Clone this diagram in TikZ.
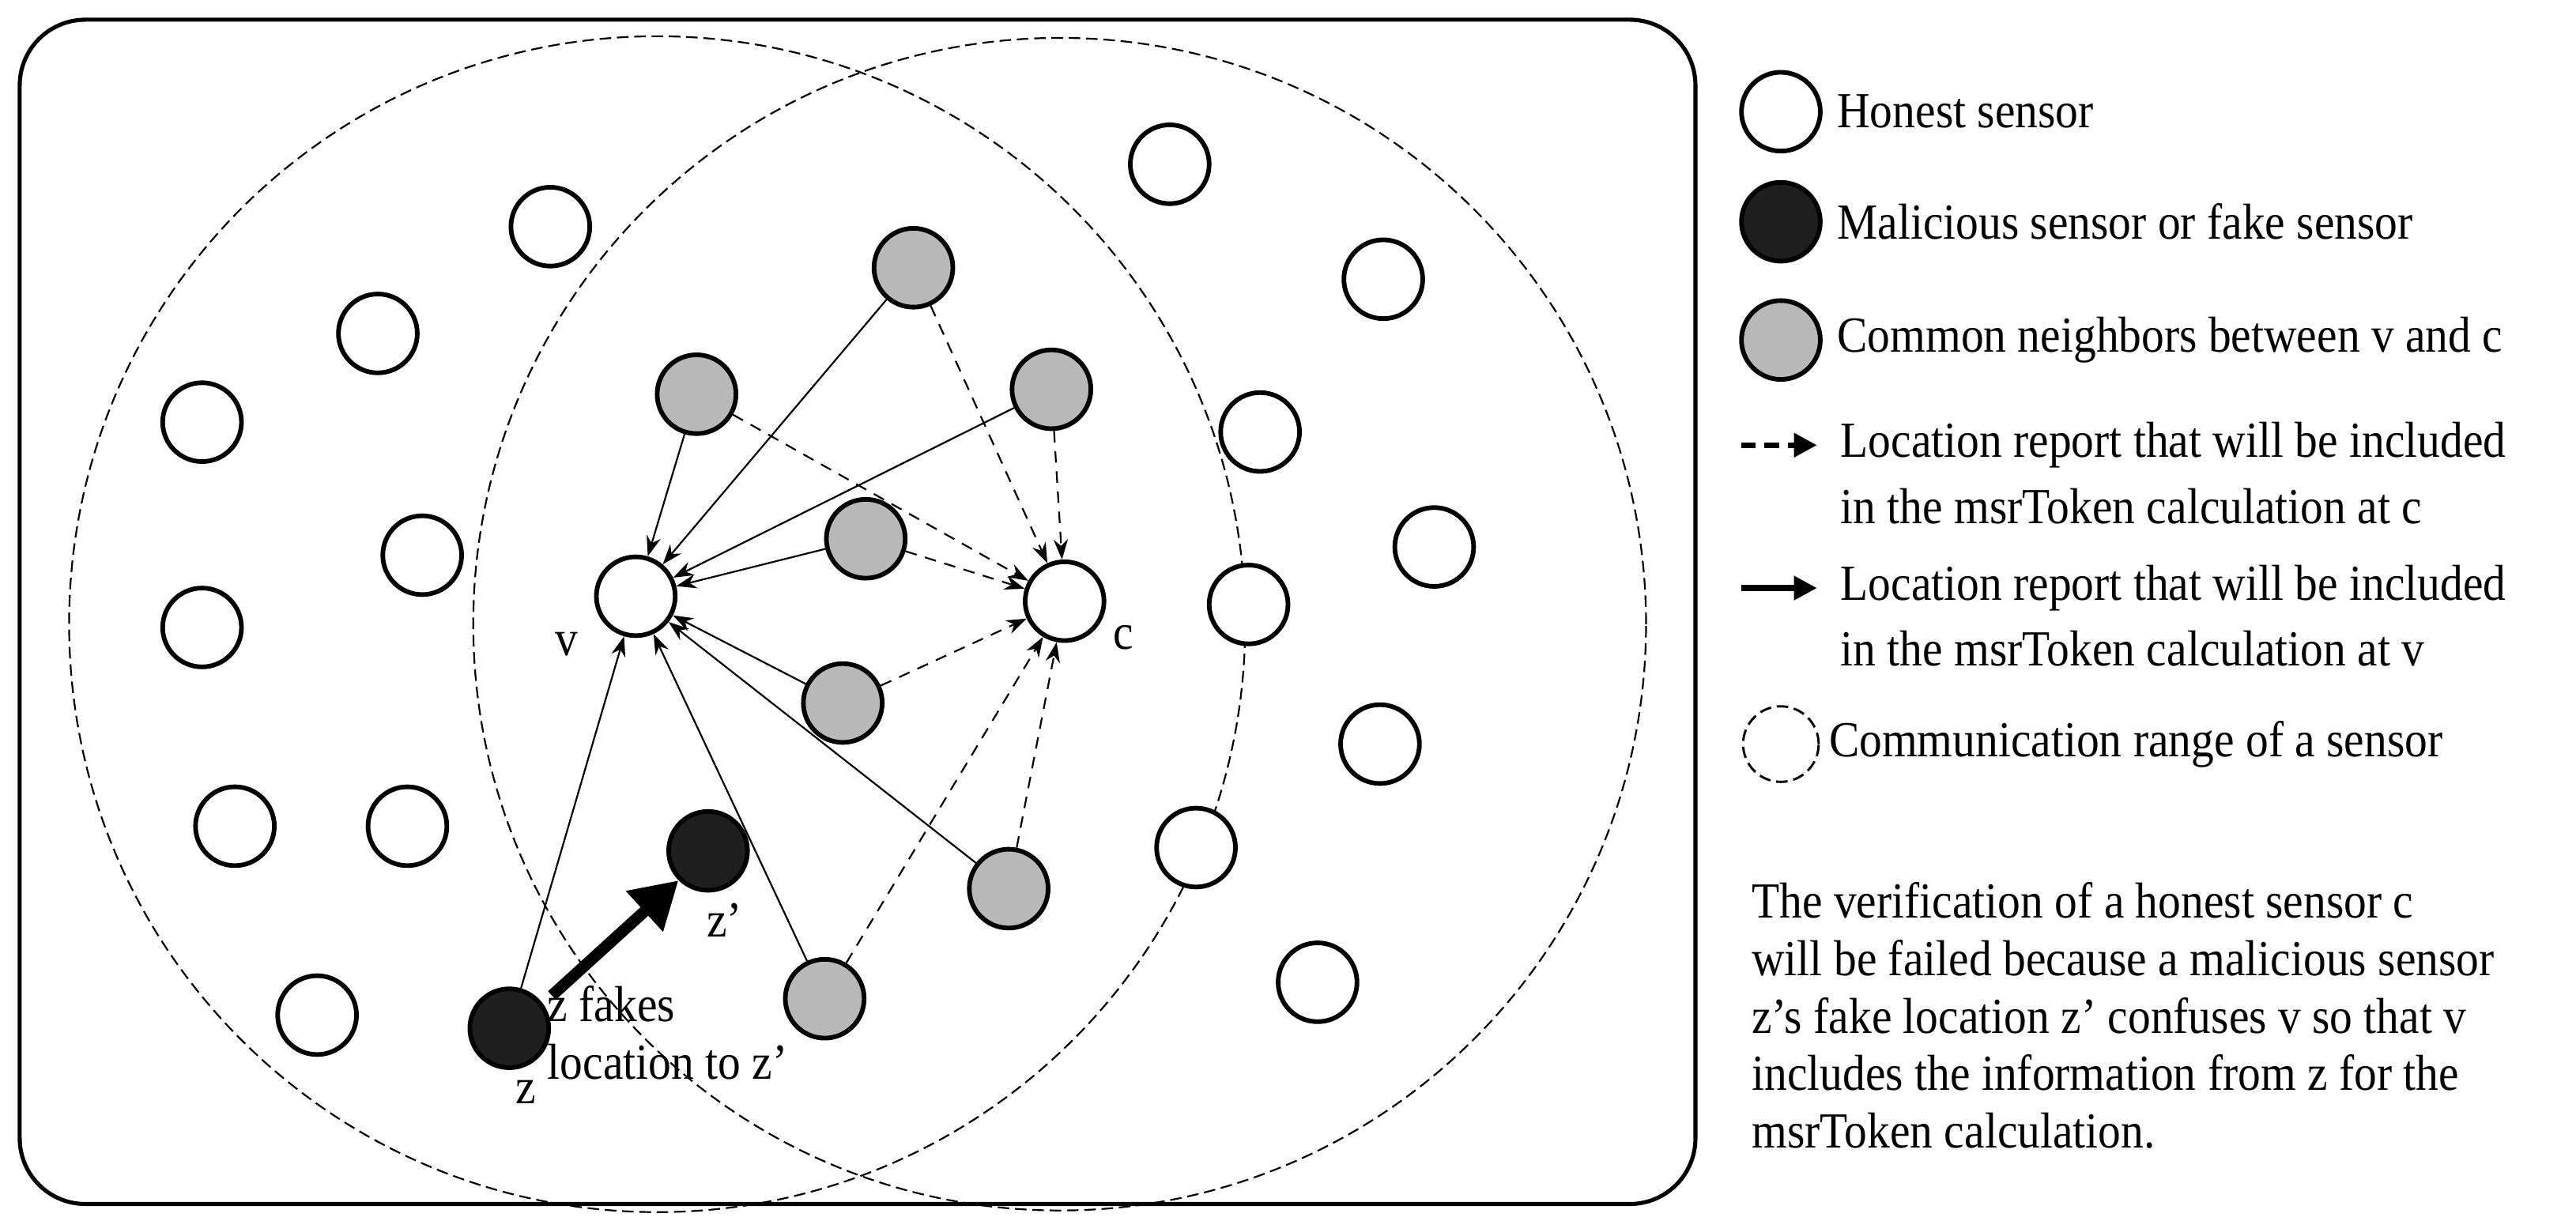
\documentclass[tikz,border=0pt]{standalone}
\usepackage{fontspec}
\setmainfont[FakeStretch=0.9]{Liberation Serif}
\usetikzlibrary{arrows.meta}
\begin{document}
\begin{tikzpicture}[x=0.02cm,y=-0.02cm,
 sn/.style={circle,draw,line width=1.6pt,minimum size=0.96cm,inner sep=0pt},
 hs/.style={sn,fill=white},
 gs/.style={sn,fill=black!28},
 ms/.style={sn,fill=black!88},
 sol/.style={-{Stealth[length=7pt,width=5pt]},line width=0.6pt},
 das/.style={-{Stealth[length=7pt,width=5pt]},line width=0.6pt,dash pattern=on 4pt off 3pt},
 lab/.style={font=\fontsize{17.5}{20}\selectfont},
 txt/.style={font=\fontsize{17.5}{20}\selectfont,anchor=west,inner sep=0pt}]
\useasboundingbox (0,0) rectangle (1568,743);
\draw[line width=1.4pt,rounded corners=0.8cm] (12,12) rectangle (1032,733);
\draw[dash pattern=on 4pt off 2pt,line width=0.6pt] (400,380) circle[radius=7.16cm];
\draw[dash pattern=on 4pt off 2pt,line width=0.6pt] (645,380) circle[radius=7.14cm];
\foreach \x/\y [count=\i] in {335/138,230/203,123/257,257/338,123/382,143/503,248/503,193/618,712/100,842/170,767/263,873/333,760/368,840/453,728/516,802/598}
  \node[hs] (h\i) at (\x,\y) {};
\node[hs] (v) at (387,363) {};
\node[hs] (c) at (648,366) {};
\foreach \x/\y [count=\i] in {556/163,424/240,640/237,527/328,513/428,614/541,502/608}
  \node[gs] (g\i) at (\x,\y) {};
\node[ms] (zp) at (431,518) {};
\node[ms] (z) at (310,626) {};
\foreach \i in {1,...,7}{
  \draw[sol] (g\i) -- (v);
  \draw[das] (g\i) -- (c);}
\draw[sol] (z) -- (v);
\draw[-{Triangle[length=16pt,width=18pt]},line width=4pt] (z.north east)++(8,-2) coordinate (zs) (zs) -- (zp.south west);
\node[lab] at (345,392) {v};
\node[lab] at (684,388) {c};
\node[lab] at (441,560) {z’};
\node[lab] at (320,665) {z};
\node[txt,align=left,anchor=north west] at (333,600) {z fakes\\location to z’};
% legend
\node[hs] (l1) at (1084,68) {};
\node[ms] (l2) at (1084,135) {};
\node[gs] (l3) at (1084,207) {};
\coordinate (a1) at (1060,271); \coordinate (b1) at (1106,271);
\draw[-{Triangle[length=8pt,width=8pt]},line width=2pt,dash pattern=on 5pt off 3pt] (a1) -- (b1);
\coordinate (a2) at (1060,358); \coordinate (b2) at (1106,358);
\draw[-{Triangle[length=8pt,width=8pt]},line width=2pt] (a2) -- (b2);
\draw[dash pattern=on 4pt off 2pt,line width=0.8pt] (1084,453) circle[radius=0.46cm];
\node[txt] at (1118,68) {Honest sensor};
\node[txt] at (1118,135) {Malicious sensor or fake sensor};
\node[txt] at (1118,207) {Common neighbors between v and c};
\node[txt] at (1120,271) {Location report that will be included};
\node[txt] at (1120,308) {in the msrToken calculation at c};
\node[txt] at (1120,358) {Location report that will be included};
\node[txt] at (1120,395) {in the msrToken calculation at v};
\node[txt] at (1113,453) {Communication range of a sensor};
\node[txt,align=left,anchor=north west,font=\fontsize{17.5}{19.9}\selectfont] at (1066,537) {The verification of a honest sensor c\\will be failed because a malicious sensor\\z’s fake location z’ confuses v so that v\\includes the information from z for the\\msrToken calculation.};
\end{tikzpicture}
\end{document}
